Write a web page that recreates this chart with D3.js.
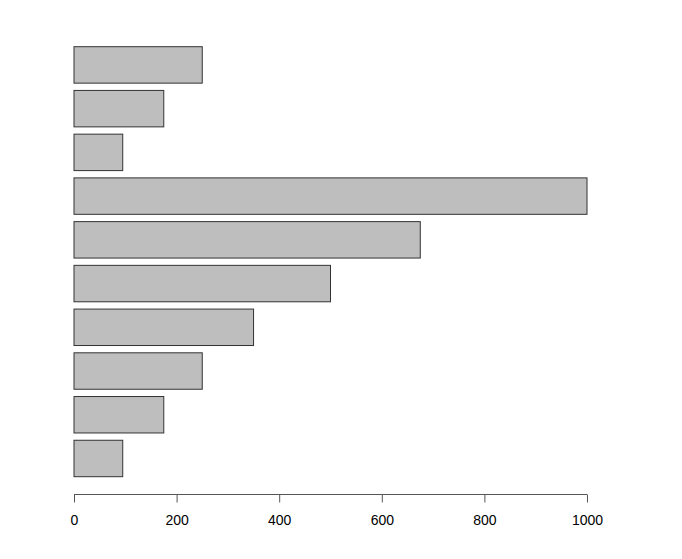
<!DOCTYPE html>
<html>
<head>
<meta charset="utf-8">
<script src="https://cdn.jsdelivr.net/npm/d3@7"></script>
<style>
  body { margin: 0; background: #fff; }
</style>
</head>
<body>
<div id="chart"></div>
<script>
// bars listed bottom to top, as in the R barplot
const categories = ["1", "2", "3", "4", "5", "6", "7", "8", "9", "10"];
const values = [95, 175, 250, 350, 500, 675, 1000, 95, 175, 250];
const tickValues = [0, 200, 400, 600, 800, 1000];

const width = 682;
const height = 559;

const x = d3.scaleLinear()
  .domain([0, 1000])
  .range([74, 587]);

// top of the chart is the last category
const y = d3.scaleBand()
  .domain(categories.slice().reverse())
  .range([46.7, 476.7])
  .paddingInner(1 / 6)
  .paddingOuter(0);

const svg = d3.select("#chart").append("svg")
  .attr("width", width)
  .attr("height", height)
  .style("font-family", "'Liberation Sans', Arial, sans-serif");

svg.append("g")
  .selectAll("rect")
  .data(values.map((v, i) => [categories[i], v]))
  .join("rect")
  .attr("x", x(0))
  .attr("y", ([c]) => y(c))
  .attr("width", ([, v]) => x(v) - x(0))
  .attr("height", y.bandwidth())
  .attr("fill", "#bebebe")
  .attr("stroke", "#333")
  .attr("stroke-width", 1);

const axis = svg.append("g")
  .attr("transform", "translate(0,494.5)")
  .call(d3.axisBottom(x)
    .tickValues(tickValues)
    .tickFormat(d3.format("d"))
    .tickSize(8)
    .tickPadding(13)
    .tickSizeOuter(0));

axis.select(".domain")
  .attr("d", `M${x(0)},0H${x(1000)}`)
  .attr("stroke", "#555");
axis.selectAll(".tick line").attr("stroke", "#555");
axis.selectAll(".tick text")
  .attr("fill", "#000")
  .style("font-size", "14px")
  .style("font-family", "'Liberation Sans', Arial, sans-serif");
</script>
</body>
</html>
